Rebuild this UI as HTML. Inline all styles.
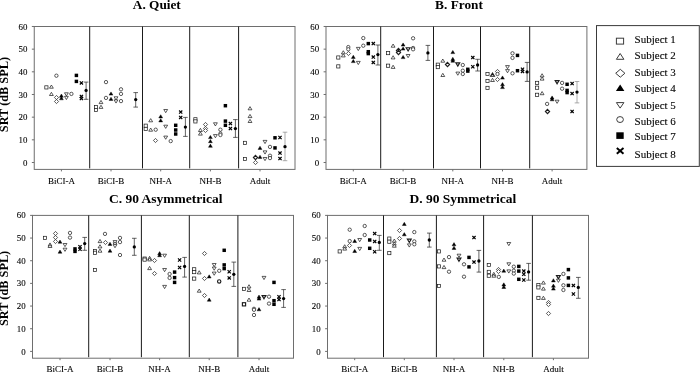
<!DOCTYPE html>
<html lang="en">
<head>
<meta charset="utf-8">
<title>SRT by group and condition</title>
<style>
html,body{margin:0;padding:0;background:#fff;}
body{width:700px;height:373px;overflow:hidden;font-family:"Liberation Serif",serif;}
svg{display:block;}
</style>
</head>
<body>
<svg width="700" height="373" viewBox="0 0 700 373">
<rect x="0" y="0" width="700" height="373" fill="#fff"/>
<g id="plotA">
<rect x="34.25" y="26.5" width="260.75" height="142.9" fill="#fff" stroke="#6e6e6e" stroke-width="1.0"/>
<line x1="31.85" y1="162.5" x2="34.25" y2="162.5" stroke="#6e6e6e" stroke-width="1.0"/>
<text x="27.35" y="165.6" text-anchor="end" font-size="8.9" font-family="Liberation Serif, serif" fill="#000" stroke="#000" stroke-width="0.1">0</text>
<line x1="31.85" y1="139.83" x2="34.25" y2="139.83" stroke="#6e6e6e" stroke-width="1.0"/>
<text x="27.35" y="142.93" text-anchor="end" font-size="8.9" font-family="Liberation Serif, serif" fill="#000" stroke="#000" stroke-width="0.1">10</text>
<line x1="31.85" y1="117.16" x2="34.25" y2="117.16" stroke="#6e6e6e" stroke-width="1.0"/>
<text x="27.35" y="120.26" text-anchor="end" font-size="8.9" font-family="Liberation Serif, serif" fill="#000" stroke="#000" stroke-width="0.1">20</text>
<line x1="31.85" y1="94.49" x2="34.25" y2="94.49" stroke="#6e6e6e" stroke-width="1.0"/>
<text x="27.35" y="97.59" text-anchor="end" font-size="8.9" font-family="Liberation Serif, serif" fill="#000" stroke="#000" stroke-width="0.1">30</text>
<line x1="31.85" y1="71.82" x2="34.25" y2="71.82" stroke="#6e6e6e" stroke-width="1.0"/>
<text x="27.35" y="74.92" text-anchor="end" font-size="8.9" font-family="Liberation Serif, serif" fill="#000" stroke="#000" stroke-width="0.1">40</text>
<line x1="31.85" y1="49.15" x2="34.25" y2="49.15" stroke="#6e6e6e" stroke-width="1.0"/>
<text x="27.35" y="52.25" text-anchor="end" font-size="8.9" font-family="Liberation Serif, serif" fill="#000" stroke="#000" stroke-width="0.1">50</text>
<line x1="31.85" y1="26.48" x2="34.25" y2="26.48" stroke="#6e6e6e" stroke-width="1.0"/>
<text x="27.35" y="29.58" text-anchor="end" font-size="8.9" font-family="Liberation Serif, serif" fill="#000" stroke="#000" stroke-width="0.1">60</text>
<line x1="61.4" y1="169.4" x2="61.4" y2="171.4" stroke="#6e6e6e" stroke-width="1.0"/>
<text x="61.4" y="184" text-anchor="middle" font-size="9.0" font-family="Liberation Serif, serif" fill="#000" stroke="#000" stroke-width="0.1">BiCI-A</text>
<line x1="111" y1="169.4" x2="111" y2="171.4" stroke="#6e6e6e" stroke-width="1.0"/>
<text x="111" y="184" text-anchor="middle" font-size="9.0" font-family="Liberation Serif, serif" fill="#000" stroke="#000" stroke-width="0.1">BiCI-B</text>
<line x1="160.7" y1="169.4" x2="160.7" y2="171.4" stroke="#6e6e6e" stroke-width="1.0"/>
<text x="160.7" y="184" text-anchor="middle" font-size="9.0" font-family="Liberation Serif, serif" fill="#000" stroke="#000" stroke-width="0.1">NH-A</text>
<line x1="210.4" y1="169.4" x2="210.4" y2="171.4" stroke="#6e6e6e" stroke-width="1.0"/>
<text x="210.4" y="184" text-anchor="middle" font-size="9.0" font-family="Liberation Serif, serif" fill="#000" stroke="#000" stroke-width="0.1">NH-B</text>
<line x1="260" y1="169.4" x2="260" y2="171.4" stroke="#6e6e6e" stroke-width="1.0"/>
<text x="260" y="184" text-anchor="middle" font-size="9.0" font-family="Liberation Serif, serif" fill="#000" stroke="#000" stroke-width="0.1">Adult</text>
<line x1="89.7" y1="26.5" x2="89.7" y2="168.4" stroke="#1a1a1a" stroke-width="1.0"/>
<line x1="142.5" y1="26.5" x2="142.5" y2="168.4" stroke="#1a1a1a" stroke-width="1.0"/>
<line x1="189.7" y1="26.5" x2="189.7" y2="168.4" stroke="#1a1a1a" stroke-width="1.0"/>
<line x1="238.6" y1="26.5" x2="238.6" y2="168.4" stroke="#1a1a1a" stroke-width="1.0"/>
<text x="156.8" y="9.3" text-anchor="middle" font-size="13.3" font-weight="bold" font-family="Liberation Serif, serif" fill="#000">A. Quiet</text>
<text transform="translate(8.4,94.6) rotate(-90)" text-anchor="middle" font-size="12.3" font-weight="bold" font-family="Liberation Serif, serif" fill="#000">SRT (dB SPL)</text>
<rect x="44.8" y="85.8" width="3.2" height="3.2" fill="#fff" stroke="#1c1c1c" stroke-width="0.72"/>
<polygon points="51.4,85.02 53.32,88.21 49.48,88.21" fill="#fff" stroke="#1c1c1c" stroke-width="0.72"/>
<polygon points="51.4,92.32 53.32,95.51 49.48,95.51" fill="#fff" stroke="#1c1c1c" stroke-width="0.72"/>
<circle cx="56.4" cy="75.7" r="1.68" fill="#fff" stroke="#1c1c1c" stroke-width="0.72"/>
<polygon points="56.5,95.42 58.58,97.5 56.5,99.58 54.42,97.5" fill="#fff" stroke="#1c1c1c" stroke-width="0.72"/>
<polygon points="56.5,99.42 58.58,101.5 56.5,103.58 54.42,101.5" fill="#fff" stroke="#1c1c1c" stroke-width="0.72"/>
<polygon points="61.4,94.02 63.32,97.21 59.48,97.21" fill="#000" stroke="#000" stroke-width="0.43"/>
<polygon points="61.4,96.62 63.32,99.81 59.48,99.81" fill="#000" stroke="#000" stroke-width="0.43"/>
<polygon points="66.4,95.98 68.32,92.79 64.48,92.79" fill="#fff" stroke="#1c1c1c" stroke-width="0.72"/>
<polygon points="66.4,99.58 68.32,96.39 64.48,96.39" fill="#fff" stroke="#1c1c1c" stroke-width="0.72"/>
<circle cx="71.4" cy="93.9" r="1.68" fill="#fff" stroke="#1c1c1c" stroke-width="0.72"/>
<rect x="74.67" y="73.67" width="3.46" height="3.46" fill="#000"/>
<rect x="74.67" y="79.67" width="3.46" height="3.46" fill="#000"/>
<path d="M79.8,81.3L83,84.5M79.8,84.5L83,81.3" stroke="#000" stroke-width="1.2" fill="none"/>
<path d="M79.8,94.8L83,98M79.8,98L83,94.8" stroke="#000" stroke-width="1.2" fill="none"/>
<path d="M79.8,97L83,100.2M79.8,100.2L83,97" stroke="#000" stroke-width="1.2" fill="none"/>
<path d="M86.1,82.1V99.3M83.8,82.1H88.4M83.8,99.3H88.4" stroke="#222" stroke-width="0.7" fill="none"/>
<circle cx="86.1" cy="90.4" r="1.65" fill="#000"/>
<rect x="94.4" y="105.5" width="3.2" height="3.2" fill="#fff" stroke="#1c1c1c" stroke-width="0.72"/>
<rect x="94.4" y="108.4" width="3.2" height="3.2" fill="#fff" stroke="#1c1c1c" stroke-width="0.72"/>
<polygon points="101,100.42 102.92,103.61 99.08,103.61" fill="#fff" stroke="#1c1c1c" stroke-width="0.72"/>
<polygon points="101,105.22 102.92,108.41 99.08,108.41" fill="#fff" stroke="#1c1c1c" stroke-width="0.72"/>
<circle cx="106" cy="82.1" r="1.68" fill="#fff" stroke="#1c1c1c" stroke-width="0.72"/>
<circle cx="106" cy="97.9" r="1.68" fill="#fff" stroke="#1c1c1c" stroke-width="0.72"/>
<polygon points="111,91.92 112.92,95.11 109.08,95.11" fill="#000" stroke="#000" stroke-width="0.43"/>
<polygon points="111,97.22 112.92,100.41 109.08,100.41" fill="#000" stroke="#000" stroke-width="0.43"/>
<polygon points="116,99.98 117.92,96.79 114.08,96.79" fill="#fff" stroke="#1c1c1c" stroke-width="0.72"/>
<polygon points="116,103.08 117.92,99.89 114.08,99.89" fill="#fff" stroke="#1c1c1c" stroke-width="0.72"/>
<circle cx="121" cy="89.3" r="1.68" fill="#fff" stroke="#1c1c1c" stroke-width="0.72"/>
<circle cx="121" cy="93.9" r="1.68" fill="#fff" stroke="#1c1c1c" stroke-width="0.72"/>
<circle cx="121" cy="101.1" r="1.68" fill="#fff" stroke="#1c1c1c" stroke-width="0.72"/>
<path d="M135.7,92.6V107.1M133.4,92.6H138M133.4,107.1H138" stroke="#222" stroke-width="0.7" fill="none"/>
<circle cx="135.7" cy="99.6" r="1.65" fill="#000"/>
<rect x="144.1" y="124.1" width="3.2" height="3.2" fill="#fff" stroke="#1c1c1c" stroke-width="0.72"/>
<rect x="144.1" y="127.3" width="3.2" height="3.2" fill="#fff" stroke="#1c1c1c" stroke-width="0.72"/>
<polygon points="150.7,118.62 152.62,121.81 148.78,121.81" fill="#fff" stroke="#1c1c1c" stroke-width="0.72"/>
<polygon points="150.7,128.02 152.62,131.21 148.78,131.21" fill="#fff" stroke="#1c1c1c" stroke-width="0.72"/>
<circle cx="155.7" cy="129.7" r="1.68" fill="#fff" stroke="#1c1c1c" stroke-width="0.72"/>
<polygon points="155.5,138.42 157.58,140.5 155.5,142.58 153.42,140.5" fill="#fff" stroke="#1c1c1c" stroke-width="0.72"/>
<polygon points="160.7,114.72 162.62,117.91 158.78,117.91" fill="#000" stroke="#000" stroke-width="0.43"/>
<polygon points="160.7,118.72 162.62,121.91 158.78,121.91" fill="#000" stroke="#000" stroke-width="0.43"/>
<polygon points="165.7,112.68 167.62,109.49 163.78,109.49" fill="#fff" stroke="#1c1c1c" stroke-width="0.72"/>
<polygon points="165.7,128.38 167.62,125.19 163.78,125.19" fill="#fff" stroke="#1c1c1c" stroke-width="0.72"/>
<polygon points="165.7,139.28 167.62,136.09 163.78,136.09" fill="#fff" stroke="#1c1c1c" stroke-width="0.72"/>
<circle cx="170.7" cy="141.1" r="1.68" fill="#fff" stroke="#1c1c1c" stroke-width="0.72"/>
<rect x="173.97" y="123.57" width="3.46" height="3.46" fill="#000"/>
<rect x="173.97" y="128.27" width="3.46" height="3.46" fill="#000"/>
<rect x="173.97" y="132.27" width="3.46" height="3.46" fill="#000"/>
<path d="M179.1,110.5L182.3,113.7M179.1,113.7L182.3,110.5" stroke="#000" stroke-width="1.2" fill="none"/>
<path d="M179.1,115.8L182.3,119M179.1,119L182.3,115.8" stroke="#000" stroke-width="1.2" fill="none"/>
<path d="M185.4,117.4V136.4M183.1,117.4H187.7M183.1,136.4H187.7" stroke="#222" stroke-width="0.7" fill="none"/>
<circle cx="185.4" cy="127.1" r="1.65" fill="#000"/>
<rect x="193.8" y="117.7" width="3.2" height="3.2" fill="#fff" stroke="#1c1c1c" stroke-width="0.72"/>
<rect x="193.8" y="119.8" width="3.2" height="3.2" fill="#fff" stroke="#1c1c1c" stroke-width="0.72"/>
<polygon points="200.4,128.32 202.32,131.51 198.48,131.51" fill="#fff" stroke="#1c1c1c" stroke-width="0.72"/>
<polygon points="200.4,131.92 202.32,135.11 198.48,135.11" fill="#fff" stroke="#1c1c1c" stroke-width="0.72"/>
<polygon points="205.5,122.42 207.58,124.5 205.5,126.58 203.42,124.5" fill="#fff" stroke="#1c1c1c" stroke-width="0.72"/>
<polygon points="205.5,126.42 207.58,128.5 205.5,130.58 203.42,128.5" fill="#fff" stroke="#1c1c1c" stroke-width="0.72"/>
<polygon points="205.5,128.42 207.58,130.5 205.5,132.58 203.42,130.5" fill="#fff" stroke="#1c1c1c" stroke-width="0.72"/>
<polygon points="210.4,135.42 212.32,138.61 208.48,138.61" fill="#000" stroke="#000" stroke-width="0.43"/>
<polygon points="210.4,139.52 212.32,142.71 208.48,142.71" fill="#000" stroke="#000" stroke-width="0.43"/>
<polygon points="210.4,144.12 212.32,147.31 208.48,147.31" fill="#000" stroke="#000" stroke-width="0.43"/>
<polygon points="215.4,125.98 217.32,122.79 213.48,122.79" fill="#fff" stroke="#1c1c1c" stroke-width="0.72"/>
<polygon points="215.4,137.78 217.32,134.59 213.48,134.59" fill="#fff" stroke="#1c1c1c" stroke-width="0.72"/>
<circle cx="220.4" cy="129.7" r="1.68" fill="#fff" stroke="#1c1c1c" stroke-width="0.72"/>
<circle cx="220.4" cy="133.6" r="1.68" fill="#fff" stroke="#1c1c1c" stroke-width="0.72"/>
<circle cx="220.4" cy="135" r="1.68" fill="#fff" stroke="#1c1c1c" stroke-width="0.72"/>
<rect x="223.67" y="103.97" width="3.46" height="3.46" fill="#000"/>
<rect x="223.67" y="119.37" width="3.46" height="3.46" fill="#000"/>
<rect x="223.67" y="123.57" width="3.46" height="3.46" fill="#000"/>
<path d="M228.8,122L232,125.2M228.8,125.2L232,122" stroke="#000" stroke-width="1.2" fill="none"/>
<path d="M228.8,127L232,130.2M228.8,130.2L232,127" stroke="#000" stroke-width="1.2" fill="none"/>
<path d="M235.4,119.6V137.4M233.1,119.6H237.7M233.1,137.4H237.7" stroke="#222" stroke-width="0.7" fill="none"/>
<circle cx="235.4" cy="128.6" r="1.65" fill="#000"/>
<rect x="243.4" y="141.3" width="3.2" height="3.2" fill="#fff" stroke="#1c1c1c" stroke-width="0.72"/>
<rect x="243.4" y="157.4" width="3.2" height="3.2" fill="#fff" stroke="#1c1c1c" stroke-width="0.72"/>
<polygon points="250,106.62 251.92,109.81 248.08,109.81" fill="#fff" stroke="#1c1c1c" stroke-width="0.72"/>
<polygon points="250,114.42 251.92,117.61 248.08,117.61" fill="#fff" stroke="#1c1c1c" stroke-width="0.72"/>
<polygon points="250,119.32 251.92,122.51 248.08,122.51" fill="#fff" stroke="#1c1c1c" stroke-width="0.72"/>
<polygon points="255.5,155.42 257.58,157.5 255.5,159.58 253.42,157.5" fill="#fff" stroke="#1c1c1c" stroke-width="1.15"/>
<polygon points="255.5,160.42 257.58,162.5 255.5,164.58 253.42,162.5" fill="#fff" stroke="#1c1c1c" stroke-width="0.72"/>
<polygon points="260,146.22 261.92,149.41 258.08,149.41" fill="#000" stroke="#000" stroke-width="0.43"/>
<polygon points="260,155.22 261.92,158.41 258.08,158.41" fill="#000" stroke="#000" stroke-width="0.43"/>
<polygon points="265,143.58 266.92,140.39 263.08,140.39" fill="#fff" stroke="#1c1c1c" stroke-width="0.72"/>
<polygon points="265,154.08 266.92,150.89 263.08,150.89" fill="#fff" stroke="#1c1c1c" stroke-width="0.72"/>
<polygon points="265,160.68 266.92,157.49 263.08,157.49" fill="#fff" stroke="#1c1c1c" stroke-width="0.72"/>
<circle cx="270" cy="146.9" r="1.68" fill="#fff" stroke="#1c1c1c" stroke-width="0.72"/>
<circle cx="270" cy="155.7" r="1.68" fill="#fff" stroke="#1c1c1c" stroke-width="0.72"/>
<circle cx="270" cy="158.1" r="1.68" fill="#fff" stroke="#1c1c1c" stroke-width="0.72"/>
<rect x="273.27" y="136.07" width="3.46" height="3.46" fill="#000"/>
<rect x="273.27" y="146.17" width="3.46" height="3.46" fill="#000"/>
<path d="M278.4,135.9L281.6,139.1M278.4,139.1L281.6,135.9" stroke="#000" stroke-width="1.2" fill="none"/>
<path d="M278.4,151.5L281.6,154.7M278.4,154.7L281.6,151.5" stroke="#000" stroke-width="1.2" fill="none"/>
<path d="M278.4,157L281.6,160.2M278.4,160.2L281.6,157" stroke="#000" stroke-width="1.2" fill="none"/>
<path d="M285,132.2V160.7M282.7,132.2H287.3M282.7,160.7H287.3" stroke="#888" stroke-width="0.7" fill="none"/>
<circle cx="285" cy="146.7" r="1.65" fill="#000"/>
</g>
<g id="plotB">
<rect x="326" y="26.5" width="260.9" height="142.9" fill="#fff" stroke="#6e6e6e" stroke-width="1.0"/>
<line x1="323.6" y1="162.5" x2="326" y2="162.5" stroke="#6e6e6e" stroke-width="1.0"/>
<text x="319.1" y="165.6" text-anchor="end" font-size="8.9" font-family="Liberation Serif, serif" fill="#000" stroke="#000" stroke-width="0.1">0</text>
<line x1="323.6" y1="139.83" x2="326" y2="139.83" stroke="#6e6e6e" stroke-width="1.0"/>
<text x="319.1" y="142.93" text-anchor="end" font-size="8.9" font-family="Liberation Serif, serif" fill="#000" stroke="#000" stroke-width="0.1">10</text>
<line x1="323.6" y1="117.16" x2="326" y2="117.16" stroke="#6e6e6e" stroke-width="1.0"/>
<text x="319.1" y="120.26" text-anchor="end" font-size="8.9" font-family="Liberation Serif, serif" fill="#000" stroke="#000" stroke-width="0.1">20</text>
<line x1="323.6" y1="94.49" x2="326" y2="94.49" stroke="#6e6e6e" stroke-width="1.0"/>
<text x="319.1" y="97.59" text-anchor="end" font-size="8.9" font-family="Liberation Serif, serif" fill="#000" stroke="#000" stroke-width="0.1">30</text>
<line x1="323.6" y1="71.82" x2="326" y2="71.82" stroke="#6e6e6e" stroke-width="1.0"/>
<text x="319.1" y="74.92" text-anchor="end" font-size="8.9" font-family="Liberation Serif, serif" fill="#000" stroke="#000" stroke-width="0.1">40</text>
<line x1="323.6" y1="49.15" x2="326" y2="49.15" stroke="#6e6e6e" stroke-width="1.0"/>
<text x="319.1" y="52.25" text-anchor="end" font-size="8.9" font-family="Liberation Serif, serif" fill="#000" stroke="#000" stroke-width="0.1">50</text>
<line x1="323.6" y1="26.48" x2="326" y2="26.48" stroke="#6e6e6e" stroke-width="1.0"/>
<text x="319.1" y="29.58" text-anchor="end" font-size="8.9" font-family="Liberation Serif, serif" fill="#000" stroke="#000" stroke-width="0.1">60</text>
<line x1="353.3" y1="169.4" x2="353.3" y2="171.4" stroke="#6e6e6e" stroke-width="1.0"/>
<text x="353.3" y="184" text-anchor="middle" font-size="9.0" font-family="Liberation Serif, serif" fill="#000" stroke="#000" stroke-width="0.1">BiCI-A</text>
<line x1="403.1" y1="169.4" x2="403.1" y2="171.4" stroke="#6e6e6e" stroke-width="1.0"/>
<text x="403.1" y="184" text-anchor="middle" font-size="9.0" font-family="Liberation Serif, serif" fill="#000" stroke="#000" stroke-width="0.1">BiCI-B</text>
<line x1="452.8" y1="169.4" x2="452.8" y2="171.4" stroke="#6e6e6e" stroke-width="1.0"/>
<text x="452.8" y="184" text-anchor="middle" font-size="9.0" font-family="Liberation Serif, serif" fill="#000" stroke="#000" stroke-width="0.1">NH-A</text>
<line x1="502.5" y1="169.4" x2="502.5" y2="171.4" stroke="#6e6e6e" stroke-width="1.0"/>
<text x="502.5" y="184" text-anchor="middle" font-size="9.0" font-family="Liberation Serif, serif" fill="#000" stroke="#000" stroke-width="0.1">NH-B</text>
<line x1="552.1" y1="169.4" x2="552.1" y2="171.4" stroke="#6e6e6e" stroke-width="1.0"/>
<text x="552.1" y="184" text-anchor="middle" font-size="9.0" font-family="Liberation Serif, serif" fill="#000" stroke="#000" stroke-width="0.1">Adult</text>
<line x1="380.7" y1="26.5" x2="380.7" y2="168.4" stroke="#1a1a1a" stroke-width="1.0"/>
<line x1="433.5" y1="26.5" x2="433.5" y2="168.4" stroke="#1a1a1a" stroke-width="1.0"/>
<line x1="480.5" y1="26.5" x2="480.5" y2="168.4" stroke="#1a1a1a" stroke-width="1.0"/>
<line x1="529.7" y1="26.5" x2="529.7" y2="168.4" stroke="#1a1a1a" stroke-width="1.0"/>
<text x="459" y="9.3" text-anchor="middle" font-size="13.3" font-weight="bold" font-family="Liberation Serif, serif" fill="#000">B. Front</text>
<rect x="336.7" y="55.9" width="3.2" height="3.2" fill="#fff" stroke="#1c1c1c" stroke-width="0.72"/>
<rect x="336.7" y="64.8" width="3.2" height="3.2" fill="#fff" stroke="#1c1c1c" stroke-width="0.72"/>
<polygon points="343.3,50.72 345.22,53.91 341.38,53.91" fill="#fff" stroke="#1c1c1c" stroke-width="0.72"/>
<polygon points="343.3,53.72 345.22,56.91 341.38,56.91" fill="#fff" stroke="#1c1c1c" stroke-width="0.72"/>
<circle cx="348.3" cy="47.1" r="1.68" fill="#fff" stroke="#1c1c1c" stroke-width="0.72"/>
<circle cx="348.3" cy="49.3" r="1.68" fill="#fff" stroke="#1c1c1c" stroke-width="0.72"/>
<polygon points="348.5,51.42 350.58,53.5 348.5,55.58 346.42,53.5" fill="#fff" stroke="#1c1c1c" stroke-width="0.72"/>
<polygon points="353.3,55.22 355.22,58.41 351.38,58.41" fill="#000" stroke="#000" stroke-width="0.43"/>
<polygon points="353.3,59.42 355.22,62.61 351.38,62.61" fill="#000" stroke="#000" stroke-width="0.43"/>
<polygon points="358.3,50.58 360.22,47.39 356.38,47.39" fill="#fff" stroke="#1c1c1c" stroke-width="0.72"/>
<polygon points="358.3,64.58 360.22,61.39 356.38,61.39" fill="#fff" stroke="#1c1c1c" stroke-width="0.72"/>
<circle cx="363.3" cy="38.1" r="1.68" fill="#fff" stroke="#1c1c1c" stroke-width="0.72"/>
<circle cx="363.3" cy="45.7" r="1.68" fill="#fff" stroke="#1c1c1c" stroke-width="0.72"/>
<rect x="366.57" y="41.87" width="3.46" height="3.46" fill="#000"/>
<rect x="366.57" y="49.97" width="3.46" height="3.46" fill="#000"/>
<rect x="366.57" y="51.87" width="3.46" height="3.46" fill="#000"/>
<path d="M371.7,42L374.9,45.2M371.7,45.2L374.9,42" stroke="#000" stroke-width="1.2" fill="none"/>
<path d="M371.7,55.5L374.9,58.7M371.7,58.7L374.9,55.5" stroke="#000" stroke-width="1.2" fill="none"/>
<path d="M371.7,60.8L374.9,64M371.7,64L374.9,60.8" stroke="#000" stroke-width="1.2" fill="none"/>
<path d="M377.9,45V65M375.6,45H380.2M375.6,65H380.2" stroke="#222" stroke-width="0.7" fill="none"/>
<circle cx="377.9" cy="54.6" r="1.65" fill="#000"/>
<rect x="386.5" y="51.5" width="3.2" height="3.2" fill="#fff" stroke="#1c1c1c" stroke-width="0.72"/>
<rect x="386.5" y="64.1" width="3.2" height="3.2" fill="#fff" stroke="#1c1c1c" stroke-width="0.72"/>
<polygon points="393.1,44.02 395.02,47.21 391.18,47.21" fill="#fff" stroke="#1c1c1c" stroke-width="0.72"/>
<polygon points="393.1,55.72 395.02,58.91 391.18,58.91" fill="#fff" stroke="#1c1c1c" stroke-width="0.72"/>
<polygon points="393.1,65.22 395.02,68.41 391.18,68.41" fill="#fff" stroke="#1c1c1c" stroke-width="0.72"/>
<polygon points="398.5,48.42 400.58,50.5 398.5,52.58 396.42,50.5" fill="#fff" stroke="#1c1c1c" stroke-width="1.15"/>
<polygon points="398.5,50.42 400.58,52.5 398.5,54.58 396.42,52.5" fill="#fff" stroke="#1c1c1c" stroke-width="1.15"/>
<polygon points="403.1,42.92 405.02,46.11 401.18,46.11" fill="#000" stroke="#000" stroke-width="0.43"/>
<polygon points="403.1,46.92 405.02,50.11 401.18,50.11" fill="#000" stroke="#000" stroke-width="0.43"/>
<polygon points="403.1,55.42 405.02,58.61 401.18,58.61" fill="#000" stroke="#000" stroke-width="0.43"/>
<polygon points="408.1,50.98 410.02,47.79 406.18,47.79" fill="#fff" stroke="#1c1c1c" stroke-width="1.15"/>
<polygon points="408.1,57.68 410.02,54.49 406.18,54.49" fill="#fff" stroke="#1c1c1c" stroke-width="0.72"/>
<circle cx="413.1" cy="38.3" r="1.68" fill="#fff" stroke="#1c1c1c" stroke-width="0.72"/>
<circle cx="413.1" cy="48" r="1.68" fill="#fff" stroke="#1c1c1c" stroke-width="0.72"/>
<circle cx="413.1" cy="49.3" r="1.68" fill="#fff" stroke="#1c1c1c" stroke-width="0.72"/>
<path d="M427.9,45.4V60.4M425.6,45.4H430.2M425.6,60.4H430.2" stroke="#222" stroke-width="0.7" fill="none"/>
<circle cx="427.9" cy="52.9" r="1.65" fill="#000"/>
<rect x="436.2" y="63.1" width="3.2" height="3.2" fill="#fff" stroke="#1c1c1c" stroke-width="0.72"/>
<rect x="436.2" y="65.5" width="3.2" height="3.2" fill="#fff" stroke="#1c1c1c" stroke-width="0.72"/>
<polygon points="442.8,59.02 444.72,62.21 440.88,62.21" fill="#fff" stroke="#1c1c1c" stroke-width="0.72"/>
<polygon points="442.8,73.32 444.72,76.51 440.88,76.51" fill="#fff" stroke="#1c1c1c" stroke-width="0.72"/>
<polygon points="447.5,62.42 449.58,64.5 447.5,66.58 445.42,64.5" fill="#fff" stroke="#1c1c1c" stroke-width="1.15"/>
<polygon points="452.8,50.42 454.72,53.61 450.88,53.61" fill="#000" stroke="#000" stroke-width="0.43"/>
<polygon points="452.8,57.32 454.72,60.51 450.88,60.51" fill="#000" stroke="#000" stroke-width="0.43"/>
<polygon points="452.8,59.02 454.72,62.21 450.88,62.21" fill="#000" stroke="#000" stroke-width="0.43"/>
<polygon points="457.8,66.08 459.72,62.89 455.88,62.89" fill="#fff" stroke="#1c1c1c" stroke-width="1.15"/>
<polygon points="457.8,75.28 459.72,72.09 455.88,72.09" fill="#fff" stroke="#1c1c1c" stroke-width="0.72"/>
<circle cx="462.8" cy="65" r="1.68" fill="#fff" stroke="#1c1c1c" stroke-width="0.72"/>
<circle cx="462.8" cy="70.7" r="1.68" fill="#fff" stroke="#1c1c1c" stroke-width="0.72"/>
<circle cx="462.8" cy="74" r="1.68" fill="#fff" stroke="#1c1c1c" stroke-width="0.72"/>
<rect x="466.07" y="67.57" width="3.46" height="3.46" fill="#000"/>
<rect x="466.07" y="69.37" width="3.46" height="3.46" fill="#000"/>
<path d="M471.2,56L474.4,59.2M471.2,59.2L474.4,56" stroke="#000" stroke-width="1.2" fill="none"/>
<path d="M471.2,65.1L474.4,68.3M471.2,68.3L474.4,65.1" stroke="#000" stroke-width="1.2" fill="none"/>
<path d="M477.6,59.3V71M475.3,59.3H479.9M475.3,71H479.9" stroke="#222" stroke-width="0.7" fill="none"/>
<circle cx="477.6" cy="65" r="1.65" fill="#000"/>
<rect x="485.9" y="72.4" width="3.2" height="3.2" fill="#fff" stroke="#1c1c1c" stroke-width="0.72"/>
<rect x="485.9" y="79.4" width="3.2" height="3.2" fill="#fff" stroke="#1c1c1c" stroke-width="0.72"/>
<rect x="485.9" y="86.3" width="3.2" height="3.2" fill="#fff" stroke="#1c1c1c" stroke-width="0.72"/>
<polygon points="492.5,73.02 494.42,76.21 490.58,76.21" fill="#fff" stroke="#1c1c1c" stroke-width="1.15"/>
<polygon points="492.5,78.32 494.42,81.51 490.58,81.51" fill="#fff" stroke="#1c1c1c" stroke-width="0.72"/>
<polygon points="497.5,69.42 499.58,71.5 497.5,73.58 495.42,71.5" fill="#fff" stroke="#1c1c1c" stroke-width="0.72"/>
<circle cx="497.5" cy="74" r="1.68" fill="#fff" stroke="#1c1c1c" stroke-width="0.72"/>
<polygon points="497.5,77.42 499.58,79.5 497.5,81.58 495.42,79.5" fill="#fff" stroke="#1c1c1c" stroke-width="0.72"/>
<polygon points="502.5,75.92 504.42,79.11 500.58,79.11" fill="#000" stroke="#000" stroke-width="0.43"/>
<polygon points="502.5,82.62 504.42,85.81 500.58,85.81" fill="#000" stroke="#000" stroke-width="0.43"/>
<polygon points="502.5,85.42 504.42,88.61 500.58,88.61" fill="#000" stroke="#000" stroke-width="0.43"/>
<polygon points="507.5,68.78 509.42,65.59 505.58,65.59" fill="#fff" stroke="#1c1c1c" stroke-width="0.72"/>
<polygon points="507.5,72.78 509.42,69.59 505.58,69.59" fill="#fff" stroke="#1c1c1c" stroke-width="0.72"/>
<circle cx="512.5" cy="53.3" r="1.68" fill="#fff" stroke="#1c1c1c" stroke-width="0.72"/>
<circle cx="512.5" cy="57.9" r="1.68" fill="#fff" stroke="#1c1c1c" stroke-width="0.72"/>
<circle cx="512.5" cy="73.3" r="1.68" fill="#fff" stroke="#1c1c1c" stroke-width="0.72"/>
<rect x="515.77" y="53.67" width="3.46" height="3.46" fill="#000"/>
<rect x="515.77" y="68.97" width="3.46" height="3.46" fill="#000"/>
<path d="M520.9,67.7L524.1,70.9M520.9,70.9L524.1,67.7" stroke="#000" stroke-width="1.2" fill="none"/>
<path d="M520.9,69.8L524.1,73M520.9,73L524.1,69.8" stroke="#000" stroke-width="1.2" fill="none"/>
<path d="M527.1,62.4V81.4M524.8,62.4H529.4M524.8,81.4H529.4" stroke="#222" stroke-width="0.7" fill="none"/>
<circle cx="527.1" cy="71.9" r="1.65" fill="#000"/>
<rect x="535.5" y="81.3" width="3.2" height="3.2" fill="#fff" stroke="#1c1c1c" stroke-width="0.72"/>
<rect x="535.5" y="86.1" width="3.2" height="3.2" fill="#fff" stroke="#1c1c1c" stroke-width="0.72"/>
<rect x="535.5" y="93.2" width="3.2" height="3.2" fill="#fff" stroke="#1c1c1c" stroke-width="0.72"/>
<polygon points="542.1,73.72 544.02,76.91 540.18,76.91" fill="#fff" stroke="#1c1c1c" stroke-width="0.72"/>
<polygon points="542.1,76.92 544.02,80.11 540.18,80.11" fill="#fff" stroke="#1c1c1c" stroke-width="0.72"/>
<polygon points="542.1,91.52 544.02,94.71 540.18,94.71" fill="#fff" stroke="#1c1c1c" stroke-width="0.72"/>
<circle cx="547.1" cy="103.9" r="1.68" fill="#fff" stroke="#1c1c1c" stroke-width="0.72"/>
<polygon points="547.5,109.42 549.58,111.5 547.5,113.58 545.42,111.5" fill="#fff" stroke="#1c1c1c" stroke-width="1.15"/>
<polygon points="552.1,95.92 554.02,99.11 550.18,99.11" fill="#000" stroke="#000" stroke-width="0.43"/>
<polygon points="552.1,97.62 554.02,100.81 550.18,100.81" fill="#000" stroke="#000" stroke-width="0.43"/>
<polygon points="557.1,83.78 559.02,80.59 555.18,80.59" fill="#fff" stroke="#1c1c1c" stroke-width="1.15"/>
<polygon points="557.1,103.38 559.02,100.19 555.18,100.19" fill="#fff" stroke="#1c1c1c" stroke-width="0.72"/>
<circle cx="562.1" cy="82.9" r="1.68" fill="#fff" stroke="#1c1c1c" stroke-width="0.72"/>
<circle cx="562.1" cy="88.7" r="1.68" fill="#fff" stroke="#1c1c1c" stroke-width="0.72"/>
<rect x="565.37" y="82.57" width="3.46" height="3.46" fill="#000"/>
<rect x="565.37" y="88.67" width="3.46" height="3.46" fill="#000"/>
<rect x="565.37" y="90.87" width="3.46" height="3.46" fill="#000"/>
<path d="M570.5,82L573.7,85.2M570.5,85.2L573.7,82" stroke="#000" stroke-width="1.2" fill="none"/>
<path d="M570.5,92L573.7,95.2M570.5,95.2L573.7,92" stroke="#000" stroke-width="1.2" fill="none"/>
<path d="M570.5,109.8L573.7,113M570.5,113L573.7,109.8" stroke="#000" stroke-width="1.2" fill="none"/>
<path d="M577,81.5V102.9M574.7,81.5H579.3M574.7,102.9H579.3" stroke="#888" stroke-width="0.7" fill="none"/>
<circle cx="577" cy="92.1" r="1.65" fill="#000"/>
</g>
<g id="plotC">
<rect x="32.5" y="215.4" width="261" height="142.8" fill="#fff" stroke="#6e6e6e" stroke-width="1.0"/>
<line x1="30.1" y1="351.4" x2="32.5" y2="351.4" stroke="#6e6e6e" stroke-width="1.0"/>
<text x="25.6" y="354.5" text-anchor="end" font-size="8.9" font-family="Liberation Serif, serif" fill="#000" stroke="#000" stroke-width="0.1">0</text>
<line x1="30.1" y1="328.73" x2="32.5" y2="328.73" stroke="#6e6e6e" stroke-width="1.0"/>
<text x="25.6" y="331.83" text-anchor="end" font-size="8.9" font-family="Liberation Serif, serif" fill="#000" stroke="#000" stroke-width="0.1">10</text>
<line x1="30.1" y1="306.06" x2="32.5" y2="306.06" stroke="#6e6e6e" stroke-width="1.0"/>
<text x="25.6" y="309.16" text-anchor="end" font-size="8.9" font-family="Liberation Serif, serif" fill="#000" stroke="#000" stroke-width="0.1">20</text>
<line x1="30.1" y1="283.39" x2="32.5" y2="283.39" stroke="#6e6e6e" stroke-width="1.0"/>
<text x="25.6" y="286.49" text-anchor="end" font-size="8.9" font-family="Liberation Serif, serif" fill="#000" stroke="#000" stroke-width="0.1">30</text>
<line x1="30.1" y1="260.72" x2="32.5" y2="260.72" stroke="#6e6e6e" stroke-width="1.0"/>
<text x="25.6" y="263.82" text-anchor="end" font-size="8.9" font-family="Liberation Serif, serif" fill="#000" stroke="#000" stroke-width="0.1">40</text>
<line x1="30.1" y1="238.05" x2="32.5" y2="238.05" stroke="#6e6e6e" stroke-width="1.0"/>
<text x="25.6" y="241.15" text-anchor="end" font-size="8.9" font-family="Liberation Serif, serif" fill="#000" stroke="#000" stroke-width="0.1">50</text>
<line x1="30.1" y1="215.38" x2="32.5" y2="215.38" stroke="#6e6e6e" stroke-width="1.0"/>
<text x="25.6" y="218.48" text-anchor="end" font-size="8.9" font-family="Liberation Serif, serif" fill="#000" stroke="#000" stroke-width="0.1">60</text>
<line x1="60" y1="358.2" x2="60" y2="360.2" stroke="#6e6e6e" stroke-width="1.0"/>
<text x="60" y="372.4" text-anchor="middle" font-size="9.0" font-family="Liberation Serif, serif" fill="#000" stroke="#000" stroke-width="0.1">BiCI-A</text>
<line x1="110" y1="358.2" x2="110" y2="360.2" stroke="#6e6e6e" stroke-width="1.0"/>
<text x="110" y="372.4" text-anchor="middle" font-size="9.0" font-family="Liberation Serif, serif" fill="#000" stroke="#000" stroke-width="0.1">BiCI-B</text>
<line x1="159.6" y1="358.2" x2="159.6" y2="360.2" stroke="#6e6e6e" stroke-width="1.0"/>
<text x="159.6" y="372.4" text-anchor="middle" font-size="9.0" font-family="Liberation Serif, serif" fill="#000" stroke="#000" stroke-width="0.1">NH-A</text>
<line x1="209.2" y1="358.2" x2="209.2" y2="360.2" stroke="#6e6e6e" stroke-width="1.0"/>
<text x="209.2" y="372.4" text-anchor="middle" font-size="9.0" font-family="Liberation Serif, serif" fill="#000" stroke="#000" stroke-width="0.1">NH-B</text>
<line x1="259" y1="358.2" x2="259" y2="360.2" stroke="#6e6e6e" stroke-width="1.0"/>
<text x="259" y="372.4" text-anchor="middle" font-size="9.0" font-family="Liberation Serif, serif" fill="#000" stroke="#000" stroke-width="0.1">Adult</text>
<line x1="88.7" y1="215.4" x2="88.7" y2="357.2" stroke="#1a1a1a" stroke-width="1.0"/>
<line x1="141.4" y1="215.4" x2="141.4" y2="357.2" stroke="#1a1a1a" stroke-width="1.0"/>
<line x1="189.3" y1="215.4" x2="189.3" y2="357.2" stroke="#1a1a1a" stroke-width="1.0"/>
<line x1="237.9" y1="215.4" x2="237.9" y2="357.2" stroke="#1a1a1a" stroke-width="1.0"/>
<text x="165.8" y="203" text-anchor="middle" font-size="13.5" font-weight="bold" font-family="Liberation Serif, serif" fill="#000">C. 90 Asymmetrical</text>
<text transform="translate(8.4,288.4) rotate(-90)" text-anchor="middle" font-size="12.3" font-weight="bold" font-family="Liberation Serif, serif" fill="#000">SRT (dB SPL)</text>
<rect x="43.4" y="236.3" width="3.2" height="3.2" fill="#fff" stroke="#1c1c1c" stroke-width="0.72"/>
<polygon points="50,242.92 51.92,246.11 48.08,246.11" fill="#fff" stroke="#1c1c1c" stroke-width="0.72"/>
<polygon points="50,244.32 51.92,247.51 48.08,247.51" fill="#fff" stroke="#1c1c1c" stroke-width="0.72"/>
<polygon points="55.5,231.42 57.58,233.5 55.5,235.58 53.42,233.5" fill="#fff" stroke="#1c1c1c" stroke-width="0.72"/>
<polygon points="55.5,235.42 57.58,237.5 55.5,239.58 53.42,237.5" fill="#fff" stroke="#1c1c1c" stroke-width="0.72"/>
<polygon points="55.5,239.42 57.58,241.5 55.5,243.58 53.42,241.5" fill="#fff" stroke="#1c1c1c" stroke-width="0.72"/>
<polygon points="60,240.02 61.92,243.21 58.08,243.21" fill="#000" stroke="#000" stroke-width="0.43"/>
<polygon points="60,250.02 61.92,253.21 58.08,253.21" fill="#000" stroke="#000" stroke-width="0.43"/>
<polygon points="65,246.68 66.92,243.49 63.08,243.49" fill="#fff" stroke="#1c1c1c" stroke-width="0.72"/>
<polygon points="65,251.38 66.92,248.19 63.08,248.19" fill="#fff" stroke="#1c1c1c" stroke-width="0.72"/>
<circle cx="70" cy="232.9" r="1.68" fill="#fff" stroke="#1c1c1c" stroke-width="0.72"/>
<circle cx="70" cy="237.6" r="1.68" fill="#fff" stroke="#1c1c1c" stroke-width="0.72"/>
<rect x="73.27" y="247.17" width="3.46" height="3.46" fill="#000"/>
<rect x="73.27" y="249.67" width="3.46" height="3.46" fill="#000"/>
<path d="M78.4,245.1L81.6,248.3M78.4,248.3L81.6,245.1" stroke="#000" stroke-width="1.2" fill="none"/>
<path d="M78.4,247.7L81.6,250.9M78.4,250.9L81.6,247.7" stroke="#000" stroke-width="1.2" fill="none"/>
<path d="M84.7,237.4V250.3M82.4,237.4H87M82.4,250.3H87" stroke="#222" stroke-width="0.7" fill="none"/>
<circle cx="84.7" cy="243.6" r="1.65" fill="#000"/>
<rect x="93.4" y="249.6" width="3.2" height="3.2" fill="#fff" stroke="#1c1c1c" stroke-width="0.72"/>
<rect x="93.4" y="251.2" width="3.2" height="3.2" fill="#fff" stroke="#1c1c1c" stroke-width="0.72"/>
<rect x="93.4" y="268.4" width="3.2" height="3.2" fill="#fff" stroke="#1c1c1c" stroke-width="0.72"/>
<polygon points="100,239.42 101.92,242.61 98.08,242.61" fill="#fff" stroke="#1c1c1c" stroke-width="0.72"/>
<polygon points="100,244.72 101.92,247.91 98.08,247.91" fill="#fff" stroke="#1c1c1c" stroke-width="0.72"/>
<polygon points="100,249.02 101.92,252.21 98.08,252.21" fill="#fff" stroke="#1c1c1c" stroke-width="0.72"/>
<circle cx="105" cy="233.9" r="1.68" fill="#fff" stroke="#1c1c1c" stroke-width="0.72"/>
<polygon points="105.5,240.42 107.58,242.5 105.5,244.58 103.42,242.5" fill="#fff" stroke="#1c1c1c" stroke-width="0.72"/>
<polygon points="110,242.22 111.92,245.41 108.08,245.41" fill="#000" stroke="#000" stroke-width="0.43"/>
<polygon points="110,249.02 111.92,252.21 108.08,252.21" fill="#000" stroke="#000" stroke-width="0.43"/>
<polygon points="115,243.78 116.92,240.59 113.08,240.59" fill="#fff" stroke="#1c1c1c" stroke-width="0.72"/>
<polygon points="115,245.98 116.92,242.79 113.08,242.79" fill="#fff" stroke="#1c1c1c" stroke-width="0.72"/>
<polygon points="115,247.78 116.92,244.59 113.08,244.59" fill="#fff" stroke="#1c1c1c" stroke-width="0.72"/>
<circle cx="120" cy="237.9" r="1.68" fill="#fff" stroke="#1c1c1c" stroke-width="0.72"/>
<circle cx="120" cy="242.1" r="1.68" fill="#fff" stroke="#1c1c1c" stroke-width="0.72"/>
<circle cx="120" cy="255" r="1.68" fill="#fff" stroke="#1c1c1c" stroke-width="0.72"/>
<path d="M134.3,238.3V255.3M132,238.3H136.6M132,255.3H136.6" stroke="#222" stroke-width="0.7" fill="none"/>
<circle cx="134.3" cy="246.9" r="1.65" fill="#000"/>
<rect x="143" y="257" width="3.2" height="3.2" fill="#fff" stroke="#1c1c1c" stroke-width="0.72"/>
<rect x="143" y="258" width="3.2" height="3.2" fill="#fff" stroke="#1c1c1c" stroke-width="0.72"/>
<polygon points="149.6,256.32 151.52,259.51 147.68,259.51" fill="#fff" stroke="#1c1c1c" stroke-width="0.72"/>
<polygon points="149.6,257.72 151.52,260.91 147.68,260.91" fill="#fff" stroke="#1c1c1c" stroke-width="0.72"/>
<polygon points="149.6,266.42 151.52,269.61 147.68,269.61" fill="#fff" stroke="#1c1c1c" stroke-width="0.72"/>
<polygon points="154.5,258.42 156.58,260.5 154.5,262.58 152.42,260.5" fill="#fff" stroke="#1c1c1c" stroke-width="0.72"/>
<polygon points="154.5,271.42 156.58,273.5 154.5,275.58 152.42,273.5" fill="#fff" stroke="#1c1c1c" stroke-width="0.72"/>
<polygon points="159.6,251.62 161.52,254.81 157.68,254.81" fill="#000" stroke="#000" stroke-width="0.43"/>
<polygon points="159.6,253.52 161.52,256.71 157.68,256.71" fill="#000" stroke="#000" stroke-width="0.43"/>
<polygon points="164.6,257.38 166.52,254.19 162.68,254.19" fill="#fff" stroke="#1c1c1c" stroke-width="0.72"/>
<polygon points="164.6,271.68 166.52,268.49 162.68,268.49" fill="#fff" stroke="#1c1c1c" stroke-width="0.72"/>
<polygon points="164.6,288.58 166.52,285.39 162.68,285.39" fill="#fff" stroke="#1c1c1c" stroke-width="0.72"/>
<circle cx="169.6" cy="274" r="1.68" fill="#fff" stroke="#1c1c1c" stroke-width="0.72"/>
<circle cx="169.6" cy="277.9" r="1.68" fill="#fff" stroke="#1c1c1c" stroke-width="0.72"/>
<rect x="172.87" y="270.37" width="3.46" height="3.46" fill="#000"/>
<rect x="172.87" y="275.87" width="3.46" height="3.46" fill="#000"/>
<rect x="172.87" y="280.67" width="3.46" height="3.46" fill="#000"/>
<path d="M178,258.4L181.2,261.6M178,261.6L181.2,258.4" stroke="#000" stroke-width="1.2" fill="none"/>
<path d="M178,265.9L181.2,269.1M178,269.1L181.2,265.9" stroke="#000" stroke-width="1.2" fill="none"/>
<path d="M184.6,257.4V277.1M182.3,257.4H186.9M182.3,277.1H186.9" stroke="#222" stroke-width="0.7" fill="none"/>
<circle cx="184.6" cy="266.4" r="1.65" fill="#000"/>
<rect x="192.6" y="267.7" width="3.2" height="3.2" fill="#fff" stroke="#1c1c1c" stroke-width="0.72"/>
<rect x="192.6" y="270.5" width="3.2" height="3.2" fill="#fff" stroke="#1c1c1c" stroke-width="0.72"/>
<rect x="192.6" y="277" width="3.2" height="3.2" fill="#fff" stroke="#1c1c1c" stroke-width="0.72"/>
<polygon points="199.2,270.72 201.12,273.91 197.28,273.91" fill="#fff" stroke="#1c1c1c" stroke-width="0.72"/>
<polygon points="199.2,289.02 201.12,292.21 197.28,292.21" fill="#fff" stroke="#1c1c1c" stroke-width="0.72"/>
<polygon points="204.5,251.42 206.58,253.5 204.5,255.58 202.42,253.5" fill="#fff" stroke="#1c1c1c" stroke-width="0.72"/>
<polygon points="204.5,276.42 206.58,278.5 204.5,280.58 202.42,278.5" fill="#fff" stroke="#1c1c1c" stroke-width="0.72"/>
<polygon points="204.5,293.42 206.58,295.5 204.5,297.58 202.42,295.5" fill="#fff" stroke="#1c1c1c" stroke-width="0.72"/>
<polygon points="209.2,274.82 211.12,278.01 207.28,278.01" fill="#000" stroke="#000" stroke-width="0.43"/>
<polygon points="209.2,298.02 211.12,301.21 207.28,301.21" fill="#000" stroke="#000" stroke-width="0.43"/>
<polygon points="214.2,266.68 216.12,263.49 212.28,263.49" fill="#fff" stroke="#1c1c1c" stroke-width="0.72"/>
<polygon points="214.2,270.28 216.12,267.09 212.28,267.09" fill="#fff" stroke="#1c1c1c" stroke-width="0.72"/>
<polygon points="214.2,275.28 216.12,272.09 212.28,272.09" fill="#fff" stroke="#1c1c1c" stroke-width="0.72"/>
<circle cx="219.2" cy="270.8" r="1.68" fill="#fff" stroke="#1c1c1c" stroke-width="0.72"/>
<circle cx="219.2" cy="281.4" r="1.68" fill="#fff" stroke="#1c1c1c" stroke-width="1.15"/>
<rect x="222.47" y="248.57" width="3.46" height="3.46" fill="#000"/>
<rect x="222.47" y="263.17" width="3.46" height="3.46" fill="#000"/>
<rect x="222.47" y="266.87" width="3.46" height="3.46" fill="#000"/>
<path d="M227.6,270.1L230.8,273.3M227.6,273.3L230.8,270.1" stroke="#000" stroke-width="1.2" fill="none"/>
<path d="M227.6,276.3L230.8,279.5M227.6,279.5L230.8,276.3" stroke="#000" stroke-width="1.2" fill="none"/>
<path d="M233.8,262.1V286.4M231.5,262.1H236.1M231.5,286.4H236.1" stroke="#222" stroke-width="0.7" fill="none"/>
<circle cx="233.8" cy="274.3" r="1.65" fill="#000"/>
<rect x="242.4" y="287.3" width="3.2" height="3.2" fill="#fff" stroke="#1c1c1c" stroke-width="0.72"/>
<rect x="242.4" y="302.7" width="3.2" height="3.2" fill="#fff" stroke="#1c1c1c" stroke-width="1.15"/>
<polygon points="249,284.72 250.92,287.91 247.08,287.91" fill="#fff" stroke="#1c1c1c" stroke-width="0.72"/>
<polygon points="249,288.32 250.92,291.51 247.08,291.51" fill="#fff" stroke="#1c1c1c" stroke-width="0.72"/>
<polygon points="249,298.02 250.92,301.21 247.08,301.21" fill="#fff" stroke="#1c1c1c" stroke-width="0.72"/>
<circle cx="254" cy="308.8" r="1.68" fill="#fff" stroke="#1c1c1c" stroke-width="0.72"/>
<circle cx="254" cy="309.8" r="1.68" fill="#fff" stroke="#1c1c1c" stroke-width="0.72"/>
<circle cx="254" cy="315" r="1.68" fill="#fff" stroke="#1c1c1c" stroke-width="0.72"/>
<polygon points="259,295.02 260.92,298.21 257.08,298.21" fill="#000" stroke="#000" stroke-width="0.43"/>
<polygon points="259,296.92 260.92,300.11 257.08,300.11" fill="#000" stroke="#000" stroke-width="0.43"/>
<polygon points="259,307.62 260.92,310.81 257.08,310.81" fill="#000" stroke="#000" stroke-width="0.43"/>
<polygon points="264,279.58 265.92,276.39 262.08,276.39" fill="#fff" stroke="#1c1c1c" stroke-width="0.72"/>
<polygon points="264,298.78 265.92,295.59 262.08,295.59" fill="#fff" stroke="#1c1c1c" stroke-width="1.15"/>
<circle cx="269" cy="296.7" r="1.68" fill="#fff" stroke="#1c1c1c" stroke-width="0.72"/>
<circle cx="269" cy="303.6" r="1.68" fill="#fff" stroke="#1c1c1c" stroke-width="0.72"/>
<rect x="272.27" y="280.67" width="3.46" height="3.46" fill="#000"/>
<rect x="272.27" y="298.97" width="3.46" height="3.46" fill="#000"/>
<rect x="272.27" y="302.57" width="3.46" height="3.46" fill="#000"/>
<path d="M277.4,295.1L280.6,298.3M277.4,298.3L280.6,295.1" stroke="#000" stroke-width="1.2" fill="none"/>
<path d="M277.4,298L280.6,301.2M277.4,301.2L280.6,298" stroke="#000" stroke-width="1.2" fill="none"/>
<path d="M283.6,289.6V307.4M281.3,289.6H285.9M281.3,307.4H285.9" stroke="#222" stroke-width="0.7" fill="none"/>
<circle cx="283.6" cy="298.6" r="1.65" fill="#000"/>
</g>
<g id="plotD">
<rect x="327.5" y="215.4" width="261" height="142.8" fill="#fff" stroke="#6e6e6e" stroke-width="1.0"/>
<line x1="325.1" y1="351.4" x2="327.5" y2="351.4" stroke="#6e6e6e" stroke-width="1.0"/>
<text x="320.6" y="354.5" text-anchor="end" font-size="8.9" font-family="Liberation Serif, serif" fill="#000" stroke="#000" stroke-width="0.1">0</text>
<line x1="325.1" y1="328.73" x2="327.5" y2="328.73" stroke="#6e6e6e" stroke-width="1.0"/>
<text x="320.6" y="331.83" text-anchor="end" font-size="8.9" font-family="Liberation Serif, serif" fill="#000" stroke="#000" stroke-width="0.1">10</text>
<line x1="325.1" y1="306.06" x2="327.5" y2="306.06" stroke="#6e6e6e" stroke-width="1.0"/>
<text x="320.6" y="309.16" text-anchor="end" font-size="8.9" font-family="Liberation Serif, serif" fill="#000" stroke="#000" stroke-width="0.1">20</text>
<line x1="325.1" y1="283.39" x2="327.5" y2="283.39" stroke="#6e6e6e" stroke-width="1.0"/>
<text x="320.6" y="286.49" text-anchor="end" font-size="8.9" font-family="Liberation Serif, serif" fill="#000" stroke="#000" stroke-width="0.1">30</text>
<line x1="325.1" y1="260.72" x2="327.5" y2="260.72" stroke="#6e6e6e" stroke-width="1.0"/>
<text x="320.6" y="263.82" text-anchor="end" font-size="8.9" font-family="Liberation Serif, serif" fill="#000" stroke="#000" stroke-width="0.1">40</text>
<line x1="325.1" y1="238.05" x2="327.5" y2="238.05" stroke="#6e6e6e" stroke-width="1.0"/>
<text x="320.6" y="241.15" text-anchor="end" font-size="8.9" font-family="Liberation Serif, serif" fill="#000" stroke="#000" stroke-width="0.1">50</text>
<line x1="325.1" y1="215.38" x2="327.5" y2="215.38" stroke="#6e6e6e" stroke-width="1.0"/>
<text x="320.6" y="218.48" text-anchor="end" font-size="8.9" font-family="Liberation Serif, serif" fill="#000" stroke="#000" stroke-width="0.1">60</text>
<line x1="354.7" y1="358.2" x2="354.7" y2="360.2" stroke="#6e6e6e" stroke-width="1.0"/>
<text x="354.7" y="372.4" text-anchor="middle" font-size="9.0" font-family="Liberation Serif, serif" fill="#000" stroke="#000" stroke-width="0.1">BiCI-A</text>
<line x1="404.3" y1="358.2" x2="404.3" y2="360.2" stroke="#6e6e6e" stroke-width="1.0"/>
<text x="404.3" y="372.4" text-anchor="middle" font-size="9.0" font-family="Liberation Serif, serif" fill="#000" stroke="#000" stroke-width="0.1">BiCI-B</text>
<line x1="454" y1="358.2" x2="454" y2="360.2" stroke="#6e6e6e" stroke-width="1.0"/>
<text x="454" y="372.4" text-anchor="middle" font-size="9.0" font-family="Liberation Serif, serif" fill="#000" stroke="#000" stroke-width="0.1">NH-A</text>
<line x1="503.8" y1="358.2" x2="503.8" y2="360.2" stroke="#6e6e6e" stroke-width="1.0"/>
<text x="503.8" y="372.4" text-anchor="middle" font-size="9.0" font-family="Liberation Serif, serif" fill="#000" stroke="#000" stroke-width="0.1">NH-B</text>
<line x1="553.4" y1="358.2" x2="553.4" y2="360.2" stroke="#6e6e6e" stroke-width="1.0"/>
<text x="553.4" y="372.4" text-anchor="middle" font-size="9.0" font-family="Liberation Serif, serif" fill="#000" stroke="#000" stroke-width="0.1">Adult</text>
<line x1="383.5" y1="215.4" x2="383.5" y2="357.2" stroke="#1a1a1a" stroke-width="1.0"/>
<line x1="436.4" y1="215.4" x2="436.4" y2="357.2" stroke="#1a1a1a" stroke-width="1.0"/>
<line x1="483.6" y1="215.4" x2="483.6" y2="357.2" stroke="#1a1a1a" stroke-width="1.0"/>
<line x1="532.4" y1="215.4" x2="532.4" y2="357.2" stroke="#1a1a1a" stroke-width="1.0"/>
<text x="462.9" y="203" text-anchor="middle" font-size="13.5" font-weight="bold" font-family="Liberation Serif, serif" fill="#000">D. 90 Symmetrical</text>
<rect x="338.1" y="249.8" width="3.2" height="3.2" fill="#fff" stroke="#1c1c1c" stroke-width="0.72"/>
<polygon points="344.7,244.72 346.62,247.91 342.78,247.91" fill="#fff" stroke="#1c1c1c" stroke-width="0.72"/>
<polygon points="344.7,246.92 346.62,250.11 342.78,250.11" fill="#fff" stroke="#1c1c1c" stroke-width="0.72"/>
<circle cx="349.7" cy="229.7" r="1.68" fill="#fff" stroke="#1c1c1c" stroke-width="0.72"/>
<circle cx="349.7" cy="241.1" r="1.68" fill="#fff" stroke="#1c1c1c" stroke-width="0.72"/>
<polygon points="349.5,243.42 351.58,245.5 349.5,247.58 347.42,245.5" fill="#fff" stroke="#1c1c1c" stroke-width="0.72"/>
<polygon points="354.7,239.32 356.62,242.51 352.78,242.51" fill="#000" stroke="#000" stroke-width="0.43"/>
<polygon points="354.7,249.32 356.62,252.51 352.78,252.51" fill="#000" stroke="#000" stroke-width="0.43"/>
<polygon points="359.7,241.68 361.62,238.49 357.78,238.49" fill="#fff" stroke="#1c1c1c" stroke-width="0.72"/>
<polygon points="359.7,250.58 361.62,247.39 357.78,247.39" fill="#fff" stroke="#1c1c1c" stroke-width="0.72"/>
<circle cx="364.7" cy="226" r="1.68" fill="#fff" stroke="#1c1c1c" stroke-width="0.72"/>
<circle cx="364.7" cy="235" r="1.68" fill="#fff" stroke="#1c1c1c" stroke-width="0.72"/>
<rect x="367.97" y="238.27" width="3.46" height="3.46" fill="#000"/>
<rect x="367.97" y="246.57" width="3.46" height="3.46" fill="#000"/>
<path d="M373.1,232L376.3,235.2M373.1,235.2L376.3,232" stroke="#000" stroke-width="1.2" fill="none"/>
<path d="M373.1,239.8L376.3,243M373.1,243L376.3,239.8" stroke="#000" stroke-width="1.2" fill="none"/>
<path d="M373.1,250.1L376.3,253.3M373.1,253.3L376.3,250.1" stroke="#000" stroke-width="1.2" fill="none"/>
<path d="M379.3,235.4V250.3M377,235.4H381.6M377,250.3H381.6" stroke="#222" stroke-width="0.7" fill="none"/>
<circle cx="379.3" cy="242.4" r="1.65" fill="#000"/>
<rect x="387.7" y="237" width="3.2" height="3.2" fill="#fff" stroke="#1c1c1c" stroke-width="0.72"/>
<rect x="387.7" y="240.1" width="3.2" height="3.2" fill="#fff" stroke="#1c1c1c" stroke-width="0.72"/>
<rect x="387.7" y="251.5" width="3.2" height="3.2" fill="#fff" stroke="#1c1c1c" stroke-width="0.72"/>
<polygon points="394.3,239.02 396.22,242.21 392.38,242.21" fill="#fff" stroke="#1c1c1c" stroke-width="0.72"/>
<polygon points="394.3,241.92 396.22,245.11 392.38,245.11" fill="#fff" stroke="#1c1c1c" stroke-width="0.72"/>
<polygon points="394.3,244.02 396.22,247.21 392.38,247.21" fill="#fff" stroke="#1c1c1c" stroke-width="0.72"/>
<polygon points="399.5,228.42 401.58,230.5 399.5,232.58 397.42,230.5" fill="#fff" stroke="#1c1c1c" stroke-width="0.72"/>
<polygon points="399.5,236.42 401.58,238.5 399.5,240.58 397.42,238.5" fill="#fff" stroke="#1c1c1c" stroke-width="0.72"/>
<polygon points="404.3,222.32 406.22,225.51 402.38,225.51" fill="#000" stroke="#000" stroke-width="0.43"/>
<polygon points="404.3,232.62 406.22,235.81 402.38,235.81" fill="#000" stroke="#000" stroke-width="0.43"/>
<polygon points="409.3,242.38 411.22,239.19 407.38,239.19" fill="#fff" stroke="#1c1c1c" stroke-width="1.15"/>
<polygon points="409.3,247.08 411.22,243.89 407.38,243.89" fill="#fff" stroke="#1c1c1c" stroke-width="0.72"/>
<circle cx="414.3" cy="232.1" r="1.68" fill="#fff" stroke="#1c1c1c" stroke-width="0.72"/>
<circle cx="414.3" cy="241.4" r="1.68" fill="#fff" stroke="#1c1c1c" stroke-width="0.72"/>
<circle cx="414.3" cy="244.3" r="1.68" fill="#fff" stroke="#1c1c1c" stroke-width="0.72"/>
<path d="M429.3,233.1V247.1M427,233.1H431.6M427,247.1H431.6" stroke="#222" stroke-width="0.7" fill="none"/>
<circle cx="429.3" cy="240" r="1.65" fill="#000"/>
<rect x="437.4" y="249.8" width="3.2" height="3.2" fill="#fff" stroke="#1c1c1c" stroke-width="0.72"/>
<rect x="437.4" y="264.8" width="3.2" height="3.2" fill="#fff" stroke="#1c1c1c" stroke-width="0.72"/>
<rect x="437.4" y="284.4" width="3.2" height="3.2" fill="#fff" stroke="#1c1c1c" stroke-width="0.72"/>
<polygon points="444,258.02 445.92,261.21 442.08,261.21" fill="#fff" stroke="#1c1c1c" stroke-width="0.72"/>
<polygon points="444,265.42 445.92,268.61 442.08,268.61" fill="#fff" stroke="#1c1c1c" stroke-width="0.72"/>
<circle cx="449" cy="257.1" r="1.68" fill="#fff" stroke="#1c1c1c" stroke-width="0.72"/>
<circle cx="449" cy="271.7" r="1.68" fill="#fff" stroke="#1c1c1c" stroke-width="0.72"/>
<polygon points="454,242.62 455.92,245.81 452.08,245.81" fill="#000" stroke="#000" stroke-width="0.43"/>
<polygon points="454,246.22 455.92,249.41 452.08,249.41" fill="#000" stroke="#000" stroke-width="0.43"/>
<polygon points="459,257.38 460.92,254.19 457.08,254.19" fill="#fff" stroke="#1c1c1c" stroke-width="0.72"/>
<polygon points="459,261.28 460.92,258.09 457.08,258.09" fill="#fff" stroke="#1c1c1c" stroke-width="1.15"/>
<circle cx="464" cy="264.3" r="1.68" fill="#fff" stroke="#1c1c1c" stroke-width="0.72"/>
<circle cx="464" cy="276.7" r="1.68" fill="#fff" stroke="#1c1c1c" stroke-width="0.72"/>
<rect x="467.27" y="255.67" width="3.46" height="3.46" fill="#000"/>
<rect x="467.27" y="265.17" width="3.46" height="3.46" fill="#000"/>
<path d="M472.4,236L475.6,239.2M472.4,239.2L475.6,236" stroke="#000" stroke-width="1.2" fill="none"/>
<path d="M472.4,260.5L475.6,263.7M472.4,263.7L475.6,260.5" stroke="#000" stroke-width="1.2" fill="none"/>
<path d="M478.9,250.4V272.1M476.6,250.4H481.2M476.6,272.1H481.2" stroke="#222" stroke-width="0.7" fill="none"/>
<circle cx="478.9" cy="261" r="1.65" fill="#000"/>
<rect x="487.2" y="263.4" width="3.2" height="3.2" fill="#fff" stroke="#1c1c1c" stroke-width="0.72"/>
<rect x="487.2" y="270.3" width="3.2" height="3.2" fill="#fff" stroke="#1c1c1c" stroke-width="0.72"/>
<rect x="487.2" y="274.1" width="3.2" height="3.2" fill="#fff" stroke="#1c1c1c" stroke-width="0.72"/>
<polygon points="493.8,272.32 495.72,275.51 491.88,275.51" fill="#fff" stroke="#1c1c1c" stroke-width="0.72"/>
<polygon points="493.8,274.02 495.72,277.21 491.88,277.21" fill="#fff" stroke="#1c1c1c" stroke-width="0.72"/>
<polygon points="498.5,267.42 500.58,269.5 498.5,271.58 496.42,269.5" fill="#fff" stroke="#1c1c1c" stroke-width="0.72"/>
<polygon points="498.5,269.42 500.58,271.5 498.5,273.58 496.42,271.5" fill="#fff" stroke="#1c1c1c" stroke-width="0.72"/>
<circle cx="498.8" cy="276.9" r="1.68" fill="#fff" stroke="#1c1c1c" stroke-width="0.72"/>
<polygon points="503.8,269.02 505.72,272.21 501.88,272.21" fill="#000" stroke="#000" stroke-width="0.43"/>
<polygon points="503.8,282.82 505.72,286.01 501.88,286.01" fill="#000" stroke="#000" stroke-width="0.43"/>
<polygon points="503.8,285.32 505.72,288.51 501.88,288.51" fill="#000" stroke="#000" stroke-width="0.43"/>
<polygon points="508.8,245.68 510.72,242.49 506.88,242.49" fill="#fff" stroke="#1c1c1c" stroke-width="0.72"/>
<polygon points="508.8,265.98 510.72,262.79 506.88,262.79" fill="#fff" stroke="#1c1c1c" stroke-width="0.72"/>
<polygon points="508.8,273.08 510.72,269.89 506.88,269.89" fill="#fff" stroke="#1c1c1c" stroke-width="0.72"/>
<circle cx="513.8" cy="266.7" r="1.68" fill="#fff" stroke="#1c1c1c" stroke-width="0.72"/>
<circle cx="513.8" cy="270.7" r="1.68" fill="#fff" stroke="#1c1c1c" stroke-width="0.72"/>
<circle cx="513.8" cy="273.6" r="1.68" fill="#fff" stroke="#1c1c1c" stroke-width="0.72"/>
<rect x="517.07" y="264.67" width="3.46" height="3.46" fill="#000"/>
<rect x="517.07" y="269.37" width="3.46" height="3.46" fill="#000"/>
<rect x="517.07" y="277.57" width="3.46" height="3.46" fill="#000"/>
<path d="M522.2,269.5L525.4,272.7M522.2,272.7L525.4,269.5" stroke="#000" stroke-width="1.2" fill="none"/>
<path d="M522.2,272.7L525.4,275.9M522.2,275.9L525.4,272.7" stroke="#000" stroke-width="1.2" fill="none"/>
<path d="M522.2,278.4L525.4,281.6M522.2,281.6L525.4,278.4" stroke="#000" stroke-width="1.2" fill="none"/>
<path d="M528.6,263.4V280.2M526.3,263.4H530.9M526.3,280.2H530.9" stroke="#222" stroke-width="0.7" fill="none"/>
<circle cx="528.6" cy="271.9" r="1.65" fill="#000"/>
<rect x="536.8" y="283.4" width="3.2" height="3.2" fill="#fff" stroke="#1c1c1c" stroke-width="0.72"/>
<rect x="536.8" y="285.8" width="3.2" height="3.2" fill="#fff" stroke="#1c1c1c" stroke-width="0.72"/>
<rect x="536.8" y="296.3" width="3.2" height="3.2" fill="#fff" stroke="#1c1c1c" stroke-width="0.72"/>
<polygon points="543.4,280.92 545.32,284.11 541.48,284.11" fill="#fff" stroke="#1c1c1c" stroke-width="0.72"/>
<polygon points="543.4,286.92 545.32,290.11 541.48,290.11" fill="#fff" stroke="#1c1c1c" stroke-width="0.72"/>
<polygon points="543.4,296.22 545.32,299.41 541.48,299.41" fill="#fff" stroke="#1c1c1c" stroke-width="0.72"/>
<polygon points="548.5,300.42 550.58,302.5 548.5,304.58 546.42,302.5" fill="#fff" stroke="#1c1c1c" stroke-width="0.72"/>
<polygon points="548.5,302.42 550.58,304.5 548.5,306.58 546.42,304.5" fill="#fff" stroke="#1c1c1c" stroke-width="0.72"/>
<polygon points="548.5,311.42 550.58,313.5 548.5,315.58 546.42,313.5" fill="#fff" stroke="#1c1c1c" stroke-width="0.72"/>
<polygon points="553.4,278.72 555.32,281.91 551.48,281.91" fill="#000" stroke="#000" stroke-width="0.43"/>
<polygon points="553.4,284.02 555.32,287.21 551.48,287.21" fill="#000" stroke="#000" stroke-width="0.43"/>
<polygon points="553.4,286.92 555.32,290.11 551.48,290.11" fill="#000" stroke="#000" stroke-width="0.43"/>
<polygon points="558.4,278.78 560.32,275.59 556.48,275.59" fill="#fff" stroke="#1c1c1c" stroke-width="1.15"/>
<polygon points="558.4,282.38 560.32,279.19 556.48,279.19" fill="#fff" stroke="#1c1c1c" stroke-width="0.72"/>
<circle cx="563.4" cy="273.9" r="1.68" fill="#fff" stroke="#1c1c1c" stroke-width="0.72"/>
<circle cx="563.4" cy="285.3" r="1.68" fill="#fff" stroke="#1c1c1c" stroke-width="0.72"/>
<circle cx="563.4" cy="290" r="1.68" fill="#fff" stroke="#1c1c1c" stroke-width="0.72"/>
<rect x="566.67" y="267.87" width="3.46" height="3.46" fill="#000"/>
<rect x="566.67" y="276.17" width="3.46" height="3.46" fill="#000"/>
<rect x="566.67" y="283.67" width="3.46" height="3.46" fill="#000"/>
<path d="M571.8,283.8L575,287M571.8,287L575,283.8" stroke="#000" stroke-width="1.2" fill="none"/>
<path d="M571.8,292.4L575,295.6M571.8,295.6L575,292.4" stroke="#000" stroke-width="1.2" fill="none"/>
<path d="M578.3,277.4V298.3M576,277.4H580.6M576,298.3H580.6" stroke="#222" stroke-width="0.7" fill="none"/>
<circle cx="578.3" cy="287.4" r="1.65" fill="#000"/>
</g>
<g id="legend">
<rect x="596.5" y="25.6" width="102.8" height="140.8" fill="#fff" stroke="#3a3a3a" stroke-width="1"/>
<rect x="616.4" y="38.2" width="7.2" height="5.9" fill="#fff" stroke="#3c3c3c" stroke-width="1.0"/>
<text x="634.6" y="42.7" font-size="11" font-family="Liberation Serif, serif" fill="#000" stroke="#000" stroke-width="0.1">Subject 1</text>
<polygon points="620.15,53.5 623.9,59.3 616.4,59.3" fill="#fff" stroke="#3c3c3c" stroke-width="1.0"/>
<text x="634.6" y="58.7" font-size="11" font-family="Liberation Serif, serif" fill="#000" stroke="#000" stroke-width="0.1">Subject 2</text>
<polygon points="620.3,69.3 624.9,73.25 620.3,77.2 615.7,73.25" fill="#fff" stroke="#3c3c3c" stroke-width="1.0"/>
<text x="634.6" y="76.2" font-size="11" font-family="Liberation Serif, serif" fill="#000" stroke="#000" stroke-width="0.1">Subject 3</text>
<polygon points="620.15,84.5 624.4,91.1 615.9,91.1" fill="#000"/>
<text x="634.6" y="92.2" font-size="11" font-family="Liberation Serif, serif" fill="#000" stroke="#000" stroke-width="0.1">Subject 4</text>
<polygon points="620.15,108.1 623.9,102.6 616.4,102.6" fill="#fff" stroke="#3c3c3c" stroke-width="1.0"/>
<text x="634.6" y="108.6" font-size="11" font-family="Liberation Serif, serif" fill="#000" stroke="#000" stroke-width="0.1">Subject 5</text>
<ellipse cx="620.05" cy="119.55" rx="3.35" ry="2.95" fill="#fff" stroke="#3c3c3c" stroke-width="1.0"/>
<text x="634.6" y="125" font-size="11" font-family="Liberation Serif, serif" fill="#000" stroke="#000" stroke-width="0.1">Subject 6</text>
<rect x="616.3" y="132.3" width="7.4" height="6.6" fill="#000"/>
<text x="634.6" y="140.4" font-size="11" font-family="Liberation Serif, serif" fill="#000" stroke="#000" stroke-width="0.1">Subject 7</text>
<path d="M616.8,148.1L623.5,153.7M616.8,153.7L623.5,148.1" stroke="#000" stroke-width="2.0" fill="none"/>
<text x="634.6" y="157.8" font-size="11" font-family="Liberation Serif, serif" fill="#000" stroke="#000" stroke-width="0.1">Subject 8</text>
</g>
</svg>
</body>
</html>
